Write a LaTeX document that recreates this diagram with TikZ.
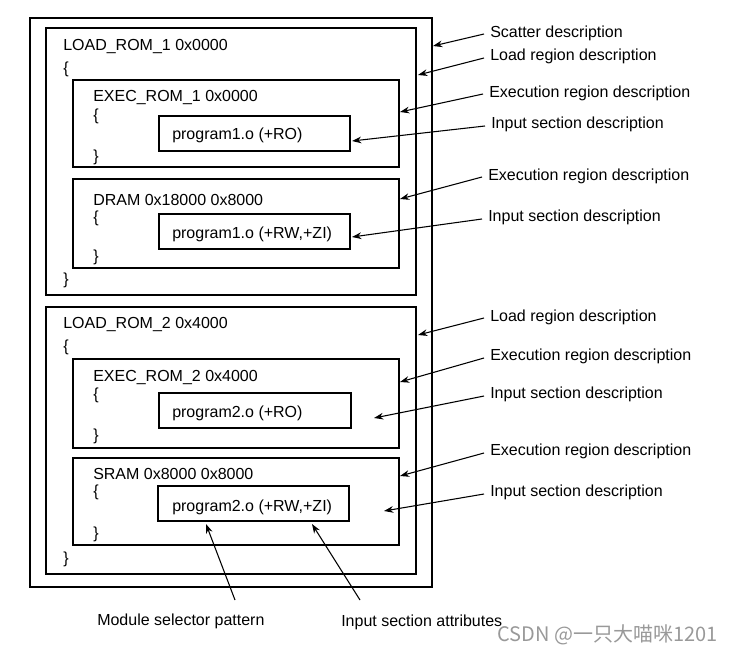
\documentclass[tikz,border=0pt]{standalone}
\usepackage{fontspec}
\setmainfont{Liberation Sans}
\newfontfamily\cjk{Noto Sans CJK SC}
\usetikzlibrary{arrows.meta}
\begin{document}
\begin{tikzpicture}[x=0.75pt,y=-0.75pt,
  box/.style={draw,line width=1pt},
  t/.style={anchor=west,inner sep=0,yshift=-1.5pt,font=\fontsize{12}{14}\selectfont},
  arr/.style={-{Stealth[length=7pt,width=5pt]},line width=0.8pt}]
\useasboundingbox (0,0) rectangle (730,652);
\draw[box] (30,18) rectangle (432,587);
\draw[box] (46,28) rectangle (416,295);
\draw[box] (73,80) rectangle (399,167);
\draw[box] (159,116) rectangle (350,151);
\draw[box] (73,179) rectangle (399,268);
\draw[box] (159,214) rectangle (350,249);
\draw[box] (46,307) rectangle (416,574);
\draw[box] (73,359) rectangle (399,448);
\draw[box] (159,393) rectangle (351,428);
\draw[box] (73,458) rectangle (399,545);
\draw[box] (158,486) rectangle (349,521);
\node[t] (l1) at (63,45) {LOAD\_ROM\_1 0x0000};
\node[t] (l1o) at (63,67) {\{};
\node[t] (l1c) at (63,278) {\}};
\node[t] (e1) at (93,96) {EXEC\_ROM\_1 0x0000};
\node[t] (e1o) at (93,114) {\{};
\node[t] (e1c) at (93,155) {\}};
\node[t] (p1) at (172,133) {program1.o (+RO)};
\node[t] (d1) at (93,198) {DRAM 0x18000 0x8000};
\node[t] (d1o) at (93,216) {\{};
\node[t] (d1c) at (93,255) {\}};
\node[t] (p2) at (172,232) {program1.o (+RW,+ZI)};
\node[t] (l2) at (63,323) {LOAD\_ROM\_2 0x4000};
\node[t] (l2o) at (63,345) {\{};
\node[t] (l2c) at (63,557) {\}};
\node[t] (e2) at (93,376) {EXEC\_ROM\_2 0x4000};
\node[t] (e2o) at (93,393) {\{};
\node[t] (e2c) at (93,434) {\}};
\node[t] (p3) at (172,411) {program2.o (+RO)};
\node[t] (s1) at (93,472) {SRAM 0x8000 0x8000};
\node[t] (s1o) at (93,490) {\{};
\node[t] (s1c) at (93,532) {\}};
\node[t] (p4) at (172,505) {program2.o (+RW,+ZI)};
\node[t] (r1) at (490,31) {Scatter description};
\node[t] (r2) at (490,54) {Load region description};
\node[t] (r3) at (489,91) {Execution region description};
\node[t] (r4) at (491,122) {Input section description};
\node[t] (r5) at (488,174) {Execution region description};
\node[t] (r6) at (488,215) {Input section description};
\node[t] (r7) at (490,315) {Load region description};
\node[t] (r8) at (490,354) {Execution region description};
\node[t] (r9) at (490,392) {Input section description};
\node[t] (r10) at (490,449) {Execution region description};
\node[t] (r11) at (490,490) {Input section description};
\node[t] (b1) at (97,619) {Module selector pattern};
\node[t] (b2) at (341,620) {Input section attributes};
\node[t,text=gray!80,font=\fontsize{15}{17}\selectfont\cjk] (wm) at (497,633) {CSDN @一只大喵咪1201};
\coordinate (a1) at (433,46); \coordinate (a2) at (418,75);
\coordinate (a3) at (400,112); \coordinate (a4) at (352,141);
\coordinate (a5) at (400,199); \coordinate (a6) at (352,237);
\coordinate (a7) at (418,335); \coordinate (a8) at (400,382);
\coordinate (a9) at (374,418); \coordinate (a10) at (400,476);
\coordinate (a11) at (384,511);
\coordinate (b1t) at (206,524); \coordinate (b2t) at (312,524);
\draw[arr] (r1.west)++(-6,1) -- (a1);
\draw[arr] (r2.west)++(-6,2) -- (a2);
\draw[arr] (r3.west)++(-6,1) -- (a3);
\draw[arr] (r4.west)++(-6,2) -- (a4);
\draw[arr] (r5.west)++(-6,1) -- (a5);
\draw[arr] (r6.west)++(-6,2) -- (a6);
\draw[arr] (r7.west)++(-6,1) -- (a7);
\draw[arr] (r8.west)++(-6,2) -- (a8);
\draw[arr] (r9.west)++(-6,2) -- (a9);
\draw[arr] (r10.west)++(-6,2) -- (a10);
\draw[arr] (r11.west)++(-6,2) -- (a11);
\draw[arr] (235,600) -- (b1t);
\draw[arr] (360,600) -- (b2t);
\end{tikzpicture}
\end{document}
